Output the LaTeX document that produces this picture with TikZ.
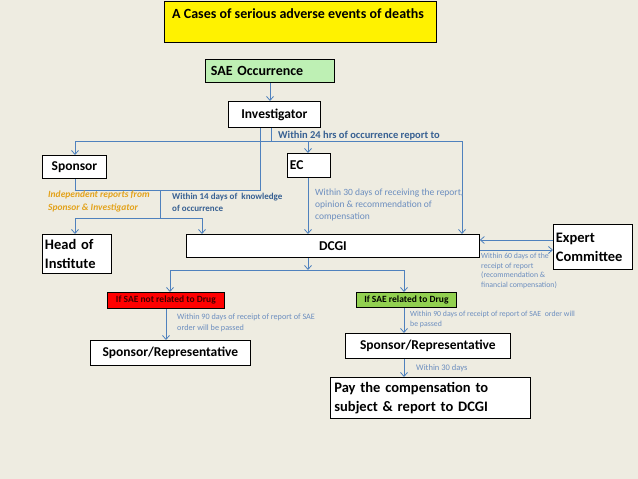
\documentclass[tikz,border=0pt]{standalone}
\usepackage{fontspec}
\setmainfont{Carlito}
\usetikzlibrary{arrows.meta}
\definecolor{bg}{HTML}{EEECE1}
\definecolor{ln}{HTML}{4F81BD}
\definecolor{lbl}{HTML}{376092}
\definecolor{lbl2}{HTML}{6C8EBF}
\definecolor{org}{HTML}{E3A21A}
\begin{document}
\begin{tikzpicture}[x=1pt,y=-1pt,
  box/.style={draw=black,line width=0.8pt,fill=white,font=\fontsize{13.5}{15}\selectfont\bfseries,inner sep=0pt},
  mbox/.style={box,align=left,font=\fontsize{14.5}{19}\selectfont\bfseries},
  con/.style={draw=ln,line width=0.8pt},
  arr/.style={con,-{Straight Barb[length=4pt,width=7pt]}},
  lab/.style={text=lbl,anchor=north west,align=left,inner sep=0pt},
  lab2/.style={text=lbl2,anchor=north west,align=left,inner sep=0pt}]
\fill[bg] (0,0) rectangle (638,479);
\useasboundingbox (0,0) rectangle (638,479);
\node[box,fill=yellow,minimum width=272pt,minimum height=41pt,anchor=north west] (title) at (164,1) {};
\node[font=\fontsize{14}{16}\selectfont\bfseries,anchor=west,inner sep=0pt] (tt) at (172,14) {A Cases of serious adverse events of deaths};
\node[box,fill=green!20!bg,minimum width=129pt,minimum height=23pt,anchor=north west,font=\fontsize{14}{16}\selectfont\bfseries,text width=122pt,align=left] (sae) at (205,59) {\hspace*{2pt}SAE Occurrence};
\node[box,minimum width=92pt,minimum height=26pt,anchor=north west] (inv) at (228,101) {Investigator};
\node[box,minimum width=64pt,minimum height=23pt,anchor=north west] (sp) at (42,155) {Sponsor};
\node[box,minimum width=43pt,minimum height=24pt,anchor=north west,text width=38pt,align=left] (ec) at (287,153) {EC};
\node[mbox,minimum width=69pt,minimum height=39pt,anchor=north west,text width=64pt] (hoi) at (42,234) {Head of\\Institute};
\node[box,minimum width=293pt,minimum height=23pt,anchor=north west] (dcgi) at (186,234) {DCGI};
\node[mbox,minimum width=79pt,minimum height=45pt,anchor=north west,text width=74pt] (exp) at (553,224) {Expert\\Committee};
\node[box,fill=red,minimum width=117pt,minimum height=16pt,anchor=north west,font=\fontsize{9.5}{10}\selectfont\bfseries,text=black!75!red] (nr) at (107,292) {If SAE not related to Drug};
\node[box,fill={rgb,255:red,146;green,208;blue,80},minimum width=100pt,minimum height=15pt,anchor=north west,font=\fontsize{9.5}{10}\selectfont\bfseries] (rr) at (356,292) {If SAE related to Drug};
\node[box,minimum width=160pt,minimum height=25pt,anchor=north west] (spl) at (90,340) {Sponsor/Representative};
\node[box,minimum width=165pt,minimum height=25pt,anchor=north west] (spr) at (345,333) {Sponsor/Representative};
\node[mbox,minimum width=200pt,minimum height=41pt,anchor=north west,text width=192pt] (pay) at (330,377) {Pay the compensation to\\subject \& report to DCGI};
% connectors
\draw[arr] (sae.south -| 270,0) -- (inv.north -| 270,0);
\coordinate (j1) at (271,141);
\draw[con] (inv.south -| j1) -- (j1);
\draw[con] (75,141) -- (462,141);
\draw[arr] (75,141) -- (sp.north -| 75,0);
\draw[arr] (308,141) -- (ec.north -| 308,0);
\draw[arr] (462,141) -- (dcgi.north -| 462,0);
\draw[con] (inv.south -| 260,0) -- (260,190) -- (75,190) -- (sp.south -| 75,0);
\draw[con] (160,190) -- (160,218);
\draw[con] (75,218) -- (202,218);
\draw[arr] (75,218) -- (hoi.north -| 75,0);
\draw[arr] (202,218) -- (dcgi.north -| 202,0);
\draw[arr] (ec.south -| 308,0) -- (dcgi.north -| 308,0);
\draw[arr] (exp.west |- 0,240) -- (dcgi.east |- 0,240);
\draw[arr] (dcgi.east |- 0,250) -- (exp.west |- 0,250);
\draw[arr] (dcgi.south -| 308,0) -- (308,270);
\draw[con] (170,270) -- (404,270);
\draw[arr] (170,270) -- (nr.north -| 170,0);
\draw[arr] (404,270) -- (rr.north -| 404,0);
\draw[arr] (nr.south -| 166,0) -- (spl.north -| 166,0);
\draw[arr] (rr.south -| 404,0) -- (spr.north -| 404,0);
\draw[arr] (spr.south -| 404,0) -- (pay.north -| 404,0);
% labels
\node[lab,font=\fontsize{10.5}{12}\selectfont\bfseries] (l24) at (278,131) {Within 24 hrs of occurrence report to};
\node[lab,text=org,font=\fontsize{9.5}{12.5}\selectfont\bfseries\itshape] (lind) at (48,191) {Independent reports from\\Sponsor \& Investigator};
\node[lab,font=\fontsize{9}{12}\selectfont\bfseries] (l14) at (172,193) {Within 14 days of \ knowledge\\of occurrence};
\node[lab2,font=\fontsize{9.5}{12}\selectfont] (l30) at (315,189) {Within 30 days of receiving the report,\\opinion \& recommendation of\\compensation};
\node[lab2,font=\fontsize{7.8}{9.5}\selectfont] (l60) at (481,253) {Within 60 days of the\\receipt of report\\(recommendation \&\\financial compensation)};
\node[lab2,font=\fontsize{8.2}{11}\selectfont] (l90a) at (177,314) {Within 90 days of receipt of report of SAE\\order will be passed};
\node[lab2,font=\fontsize{7.8}{10}\selectfont] (l90b) at (410,311) {Within 90 days of receipt of report of SAE \ order will\\be passed};
\node[lab2,font=\fontsize{8.5}{9}\selectfont] (l30b) at (416,364) {Within 30 days};
\end{tikzpicture}
\end{document}
